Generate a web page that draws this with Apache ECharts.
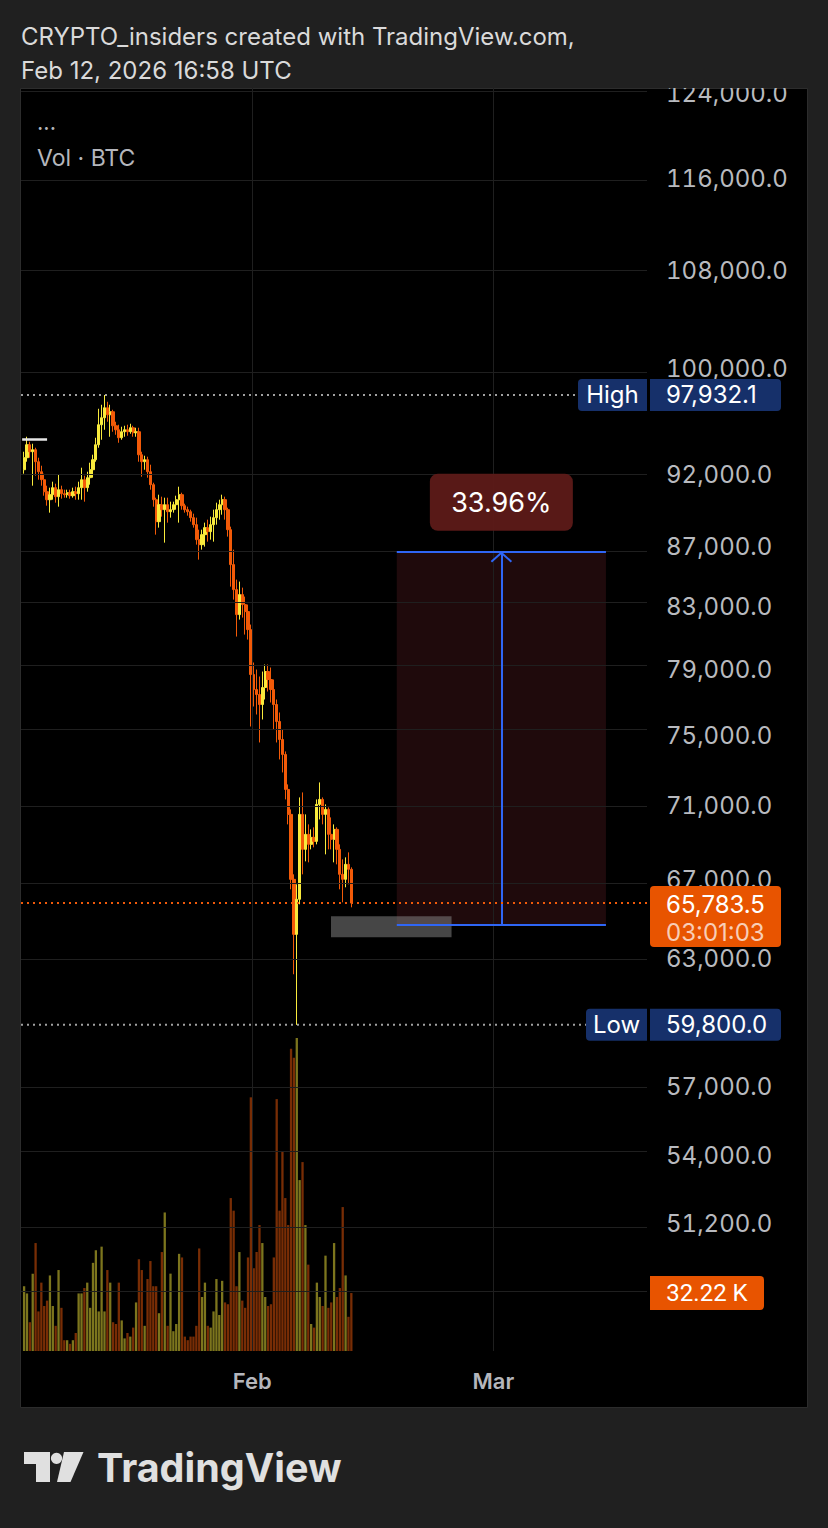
<!DOCTYPE html>
<html><head><meta charset="utf-8">
<script src="https://cdn.jsdelivr.net/npm/echarts@6/dist/echarts.min.js"></script>
<style>
html,body{margin:0;padding:0;background:#202020;}
#c{width:828px;height:1528px;}
#c svg text{font-variant-numeric:tabular-nums;font-feature-settings:"tnum" 1;}
</style>
</head><body><div id="c"></div>
<script>
// ---------------- data ----------------
const headerLines = ['CRYPTO_insiders created with TradingView.com,', 'Feb 12, 2026 16:58 UTC'];
const legendLines = ['...', 'Vol \u00b7 BTC'];
const priceTicks = [124000, 116000, 108000, 100000, 92000, 87000, 83000, 79000, 75000, 71000, 67000, 63000, 57000, 54000, 51200, 48600];
const hiddenPriceLabels = [48600];   // covered by the volume tag in the picture
const monthTicks = ['2026-02-01T00:00:00Z', '2026-03-01T00:00:00Z'];
const monthLabels = ['Feb', 'Mar'];
const candleStart = '2026-01-05T12:00:00Z';   // mid-time of first candle
const candleHours = 8;
// [open, close, low, high]
const candles = [
 [92365,93237,92077,93675],[93237,94188,92946,94781],[94188,93675,93237,94410],[93675,93822,91216,94262],[93822,92946,91933,93968],
 [92946,92221,91645,93237],[92221,91645,91216,92655],[91645,90789,90505,92077],[90789,90222,89800,91216],[90222,90576,89310,91074],
 [90576,91074,90222,91502],[91074,90435,90011,91359],[90435,90931,89730,92005],[90931,90647,90293,91216],[90647,90576,90364,90931],
 [90576,90718,90364,90931],[90718,90505,90293,90931],[90505,90789,90364,91074],[90789,90647,90222,91145],[90647,91074,90222,91502],
 [91074,91645,90222,92510],[91645,91074,90081,91933],[91074,91789,90789,92221],[91789,92365,91288,92873],[92365,93091,91789,93456],
 [93091,94188,92946,94707],[94188,95676,93968,96880],[95676,96201,94558,97184],[96201,96956,95302,97932.1],[96956,96427,95901,97412],
 [96427,96654,94781,97184],[96654,95601,95153,96805],[95601,95302,94930,95901],[95302,94707,94336,95676],[94707,95153,94558,95526],
 [95153,95302,94781,95601],[95302,95153,94855,95676],[95153,95452,95004,95751],[95452,95079,94781,95601],[95079,95153,94781,95452],
 [95153,93456,92946,95452],[93456,92946,91861,93675],[92946,93091,92365,93383],[93091,92221,91789,93310],[92221,91288,90931,92728],
 [91288,90222,89730,91430],[90222,88683,87786,90364],[88683,89870,88268,90576],[89870,89519,89031,90435],[89519,89870,87237,90364],
 [89870,89379,88614,90364],[89379,89519,88961,90081],[89519,89870,89310,90081],[89870,90222,89519,90505],[90222,90576,88614,91145],
 [90576,89800,89519,90718],[89800,89519,89310,89940],[89519,89379,89100,89730],[89379,88961,88683,89519],[88961,88475,88268,89240],
 [88475,87442,87101,88961],[87442,87101,86085,88129],[87101,87786,86760,88129],[87786,88268,86965,88614],[88268,87992,87306,88822],
 [87992,88475,87442,89031],[88475,88961,87306,89519],[88961,89519,88475,90011],[89519,89870,88822,90222],[89870,90222,89170,90576],
 [90222,89519,88822,90435],[89519,88129,87649,89659],[88129,85749,84285,88337],[85749,84087,83432,86760],[84087,82458,81051,84748],
 [82458,83759,82136,84616],[83759,83106,82265,84218],[83106,82652,81178,83629],[82652,81496,80861,83106],[81496,78677,75540,81816],
 [78677,77759,76732,79420],[77759,77455,76253,78985],[77455,76852,74601,78555],[76852,77881,75955,78862],[77881,78862,77153,79296],
 [78862,78370,77637,79296],[78370,77759,76972,79110],[77759,76852,75363,78370],[76852,75836,74601,77153],[75836,74776,73615,76373],
 [74776,73904,72871,75363],[73904,71907,71347,74078],[71907,70515,69966,72191],[70515,67018,66497,70791],[67018,64192,62217,67281],
 [64192,65978,59800,66757],[65978,70515,65720,71459],[70515,68610,67281,71739],[68610,69420,67969,70515],[69420,68879,67916,69966],
 [68879,69257,68610,69692],[69257,69041,68718,69802],[69041,71069,68879,71347],[71069,71347,70239,72302],[71347,70515,69966,71459],
 [70515,70791,68342,71069],[70791,69420,68610,70902],[69420,69149,68610,70349],[69149,69692,67916,69966],[69692,68610,67809,69802],
 [68610,67281,66497,68879],[67281,67018,65823,68075],[67018,67809,66601,68182],[67809,67545,66757,68449],[67545,65783.5,65566,67651]
];
// volume, thousand BTC
const volumes = [
 36,32,16,43,60,22,38,25,28,42,
 25,14,45,24,6,6,4,6,10,32,
 32,35,38,24,49,56,22,58,22,45,
 38,16,15,38,17,7,10,8,13,27,
 51,45,14,40,50,36,36,21,55,77,
 14,43,11,15,54,52,8,6,8,8,
 14,57,30,38,14,13,22,40,20,39,
 27,26,85,78,36,55,28,24,52,141,
 46,55,70,60,30,25,26,52,140,78,
 111,85,70,168,163,174,95,105,70,48,
 15,13,38,30,25,53,24,27,60,30,
 35,80,42,19,32.22
];
const lastPrice = 65783.5;
const barCountdown = '03:01:03';
const highPrice = 97932.1;
const lowPrice = 59800.0;
const lastVolumeLabel = '32.22 K';
const prevMarker = { price: 94600, until: '2026-01-08T04:00:00Z' };
const rangeTool = { start: '2026-02-17T18:40:00Z', end: '2026-03-14T01:40:00Z', from: 64660, to: 86619, label: '33.96%' };
const grayBox = { start: '2026-02-10T03:20:00Z', end: '2026-02-24T03:20:00Z', top: 65105, bottom: 64046 };

// ---------------- chart ----------------
const L = Math.log;
const T = s => Date.parse(s);
const t0 = T(candleStart), step = candleHours * 3600 * 1000;
const monthTimes = monthTicks.map(T);
const fmtPrice = p => {
  const s = p.toFixed(1).split('.');
  return s[0].replace(/\B(?=(\d{3})+(?!\d))/g, ',') + '.' + s[1];
};
const UP = '#f8ea3c', DOWN = '#f25a08';
const UPV = 'rgba(247,233,58,0.5)', DOWNV = 'rgba(240,90,10,0.5)';
const FONT = 'Inter';
const X_MIN = T('2026-01-05T06:33:00Z'), X_MAX = T('2026-03-18T16:52:00Z');

const candleData = candles.map((c, i) => [t0 + i * step, L(c[0]), L(c[1]), L(c[2]), L(c[3])]);
const volData = volumes.map((v, i) => ({
  value: [t0 + i * step, v],
  itemStyle: { color: candles[i][1] >= candles[i][0] ? UPV : DOWNV }
}));

const chart = echarts.init(document.getElementById('c'), null, { renderer: 'svg', width: 828, height: 1528 });

const rA = T(rangeTool.start), rB = T(rangeTool.end), rM = (rA + rB) / 2;
const BLUE = '#2f66f5';
const labelTicks = priceTicks.filter(p => !hiddenPriceLabels.includes(p));

chart.setOption({
  animation: false,
  backgroundColor: '#202020',
  textStyle: { fontFamily: FONT },
  grid: { left: 21, right: 181, top: 88, bottom: 177, containLabel: false, outerBoundsMode: 'none' },
  xAxis: {
    type: 'time', min: X_MIN, max: X_MAX,
    axisLine: { show: false }, axisTick: { show: false }, splitLine: { show: false },
    axisLabel: { show: false }
  },
  yAxis: [{
    type: 'value', position: 'right', min: L(46321), max: L(124546),
    axisLine: { show: false }, axisTick: { show: false }, splitLine: { show: false },
    axisLabel: {
      customValues: labelTicks.map(L),
      formatter: v => fmtPrice(Math.round(Math.exp(v))),
      color: '#b8babf', fontSize: 24, margin: 19, align: 'left', fontFamily: FONT
    }
  }, { type: 'value', min: 0, max: 702, show: false }],
  series: [
    { // grid lines
      type: 'line', data: [], z: 1, silent: true,
      markLine: {
        silent: true, symbol: ['none', 'none'], animation: false, label: { show: false },
        lineStyle: { color: '#1f1f1f', width: 1, type: 'solid' },
        data: [...priceTicks.map(p => ({ yAxis: L(p) })), ...monthTimes.map(t => ({ xAxis: t }))]
      }
    },
    {
      type: 'bar', yAxisIndex: 1, data: volData, barWidth: 2.3, z: 2, silent: true
    },
    {
      type: 'candlestick', data: candleData, barWidth: 2.7, z: 3, silent: true,
      itemStyle: { color: UP, color0: DOWN, borderColor: UP, borderColor0: DOWN, borderWidth: 1 }
    },
    { // drawings
      type: 'line', data: [], z: 4, silent: true,
      markArea: {
        silent: true,
        data: [
          [{ coord: [rA, L(rangeTool.to)], itemStyle: { color: 'rgba(155,50,60,0.2)' } }, { coord: [rB, L(rangeTool.from)] }],
          [{ coord: [T(grayBox.start), L(grayBox.top)], itemStyle: { color: 'rgba(128,128,128,0.55)' } }, { coord: [T(grayBox.end), L(grayBox.bottom)] }]
        ]
      },
      markLine: {
        silent: true, symbol: ['none', 'none'], label: { show: false }, animation: false,
        lineStyle: { color: BLUE, width: 2, type: 'solid' },
        data: [
          [{ coord: [rA, L(rangeTool.to)] }, { coord: [rB, L(rangeTool.to)] }],
          [{ coord: [rA, L(rangeTool.from)] }, { coord: [rB, L(rangeTool.from)] }],
          [{ coord: [rM, L(rangeTool.from)] }, { coord: [rM, L(rangeTool.to)] }],
          [{ coord: [X_MIN, L(prevMarker.price)], lineStyle: { color: '#e6e6e6', width: 2.5 } },
           { coord: [T(prevMarker.until), L(prevMarker.price)] }]
        ]
      }
    }
  ]
});

// ---------------- overlay drawings positioned through the axes ----------------
const yp = p => chart.convertToPixel({ yAxisIndex: 0 }, L(p));
const xp = t => chart.convertToPixel({ xAxisIndex: 0 }, t);
const yv = v => chart.convertToPixel({ yAxisIndex: 1 }, v);
const gLeft = 21, gRight = 647, scaleX = 650, scaleW = 131;

const g = [];
g.push({ type: 'rect', z: -10, shape: { x: 20.5, y: 88.5, width: 787, height: 1319 }, style: { fill: '#000', stroke: '#2c2c2c', lineWidth: 1 } });
g.push({ type: 'rect', z: 50, shape: { x: 640, y: 40, width: 188, height: 48 }, style: { fill: '#202020' } });
g.push({ type: 'text', z: 60, x: 21, y: 36, style: { text: headerLines[0], fill: '#dadada', font: '400 24px Inter', verticalAlign: 'middle' } });
g.push({ type: 'text', z: 60, x: 21, y: 70, style: { text: headerLines[1], fill: '#dadada', font: '400 24px Inter', verticalAlign: 'middle' } });
g.push({ type: 'text', z: 60, x: 37, y: 122, style: { text: legendLines[0], fill: '#b4b6bc', font: '400 22px Inter', verticalAlign: 'middle' } });
g.push({ type: 'text', z: 60, x: 37, y: 158, style: { text: legendLines[1], fill: '#b4b6bc', font: '400 23px Inter', verticalAlign: 'middle' } });

// month labels on the time axis
monthTimes.forEach((t, k) => {
  g.push({ type: 'text', z: 60, x: xp(t), y: 1381, style: { text: monthLabels[k], fill: '#b4b6bc', font: '600 22px Inter', align: 'center', verticalAlign: 'middle' } });
});

// High / Low dotted lines and tags
function hiLoTag(price, word, wordW) {
  const y = yp(price);
  const boxL = scaleX - 3 - wordW;
  g.push({ type: 'line', z: 20, shape: { x1: gLeft, y1: y, x2: boxL, y2: y }, style: { stroke: '#a0a0a0', lineWidth: 2, lineDash: [2, 4] } });
  g.push({ type: 'rect', z: 30, shape: { x: boxL, y: y - 16, width: wordW, height: 32, r: [4, 0, 0, 4] }, style: { fill: '#16306a' } });
  g.push({ type: 'text', z: 31, x: boxL + wordW / 2, y: y, style: { text: word, fill: '#ffffff', font: '400 24px Inter', align: 'center', verticalAlign: 'middle' } });
  g.push({ type: 'rect', z: 30, shape: { x: scaleX, y: y - 16, width: scaleW, height: 32, r: [0, 4, 4, 0] }, style: { fill: '#16306a' } });
  g.push({ type: 'text', z: 31, x: scaleX + 16, y: y, style: { text: fmtPrice(price), fill: '#ffffff', font: '400 24px Inter', align: 'left', verticalAlign: 'middle' } });
}
hiLoTag(highPrice, 'High', 69);
hiLoTag(lowPrice, 'Low', 61);

// last price line + tag
const yl = yp(lastPrice);
g.push({ type: 'line', z: 20, shape: { x1: gLeft, y1: yl, x2: gRight, y2: yl }, style: { stroke: '#f05a0a', lineWidth: 2, lineDash: [2, 4] } });
g.push({ type: 'rect', z: 30, shape: { x: scaleX, y: yl - 17, width: scaleW, height: 61, r: 4 }, style: { fill: '#e85400' } });
g.push({ type: 'text', z: 31, x: scaleX + 16, y: yl + 1, style: { text: fmtPrice(lastPrice), fill: '#ffffff', font: '400 24px Inter', align: 'left', verticalAlign: 'middle' } });
g.push({ type: 'text', z: 31, x: scaleX + 16, y: yl + 29, style: { text: barCountdown, fill: 'rgba(255,255,255,0.72)', font: '400 24px Inter', align: 'left', verticalAlign: 'middle' } });

// volume tag
const yvl = yv(volumes[volumes.length - 1]);
g.push({ type: 'rect', z: 30, shape: { x: scaleX, y: yvl - 17, width: 114, height: 34, r: [0, 4, 4, 0] }, style: { fill: '#e85400' } });
g.push({ type: 'text', z: 31, x: scaleX + 57, y: yvl, style: { text: lastVolumeLabel, fill: '#ffffff', font: '400 24px Roboto', align: 'center', verticalAlign: 'middle' } });

// range tool arrow head and label
const ax = xp(rM), ay = yp(rangeTool.to);
g.push({ type: 'polyline', z: 25, shape: { points: [[ax - 10, ay + 10], [ax, ay + 1], [ax + 10, ay + 10]] }, style: { stroke: BLUE, lineWidth: 2, fill: null } });
g.push({ type: 'rect', z: 30, shape: { x: ax - 71.5, y: ay - 78, width: 143, height: 57, r: 8 }, style: { fill: 'rgba(92,26,24,0.96)' } });
g.push({ type: 'text', z: 31, x: ax, y: ay - 49.5, style: { text: rangeTool.label, fill: '#ffffff', font: '400 27px Inter', align: 'center', verticalAlign: 'middle' } });

// TradingView logo
g.push({ type: 'polygon', z: 60, shape: { points: [[24, 1452], [50, 1452], [50, 1482], [36, 1482], [36, 1464], [24, 1464]] }, style: { fill: '#e0e0e0' } });
g.push({ type: 'circle', z: 60, shape: { cx: 56.5, cy: 1458.3, r: 5.6 }, style: { fill: '#e0e0e0' } });
g.push({ type: 'polygon', z: 60, shape: { points: [[64, 1452], [83.5, 1452], [70.5, 1482], [57, 1482]] }, style: { fill: '#e0e0e0' } });
g.push({ type: 'text', z: 60, x: 97, y: 1468, style: { text: 'TradingView', fill: '#e0e0e0', font: '700 39.5px Inter', verticalAlign: 'middle' } });

chart.setOption({ graphic: { elements: g } });
</script>
</body></html>
